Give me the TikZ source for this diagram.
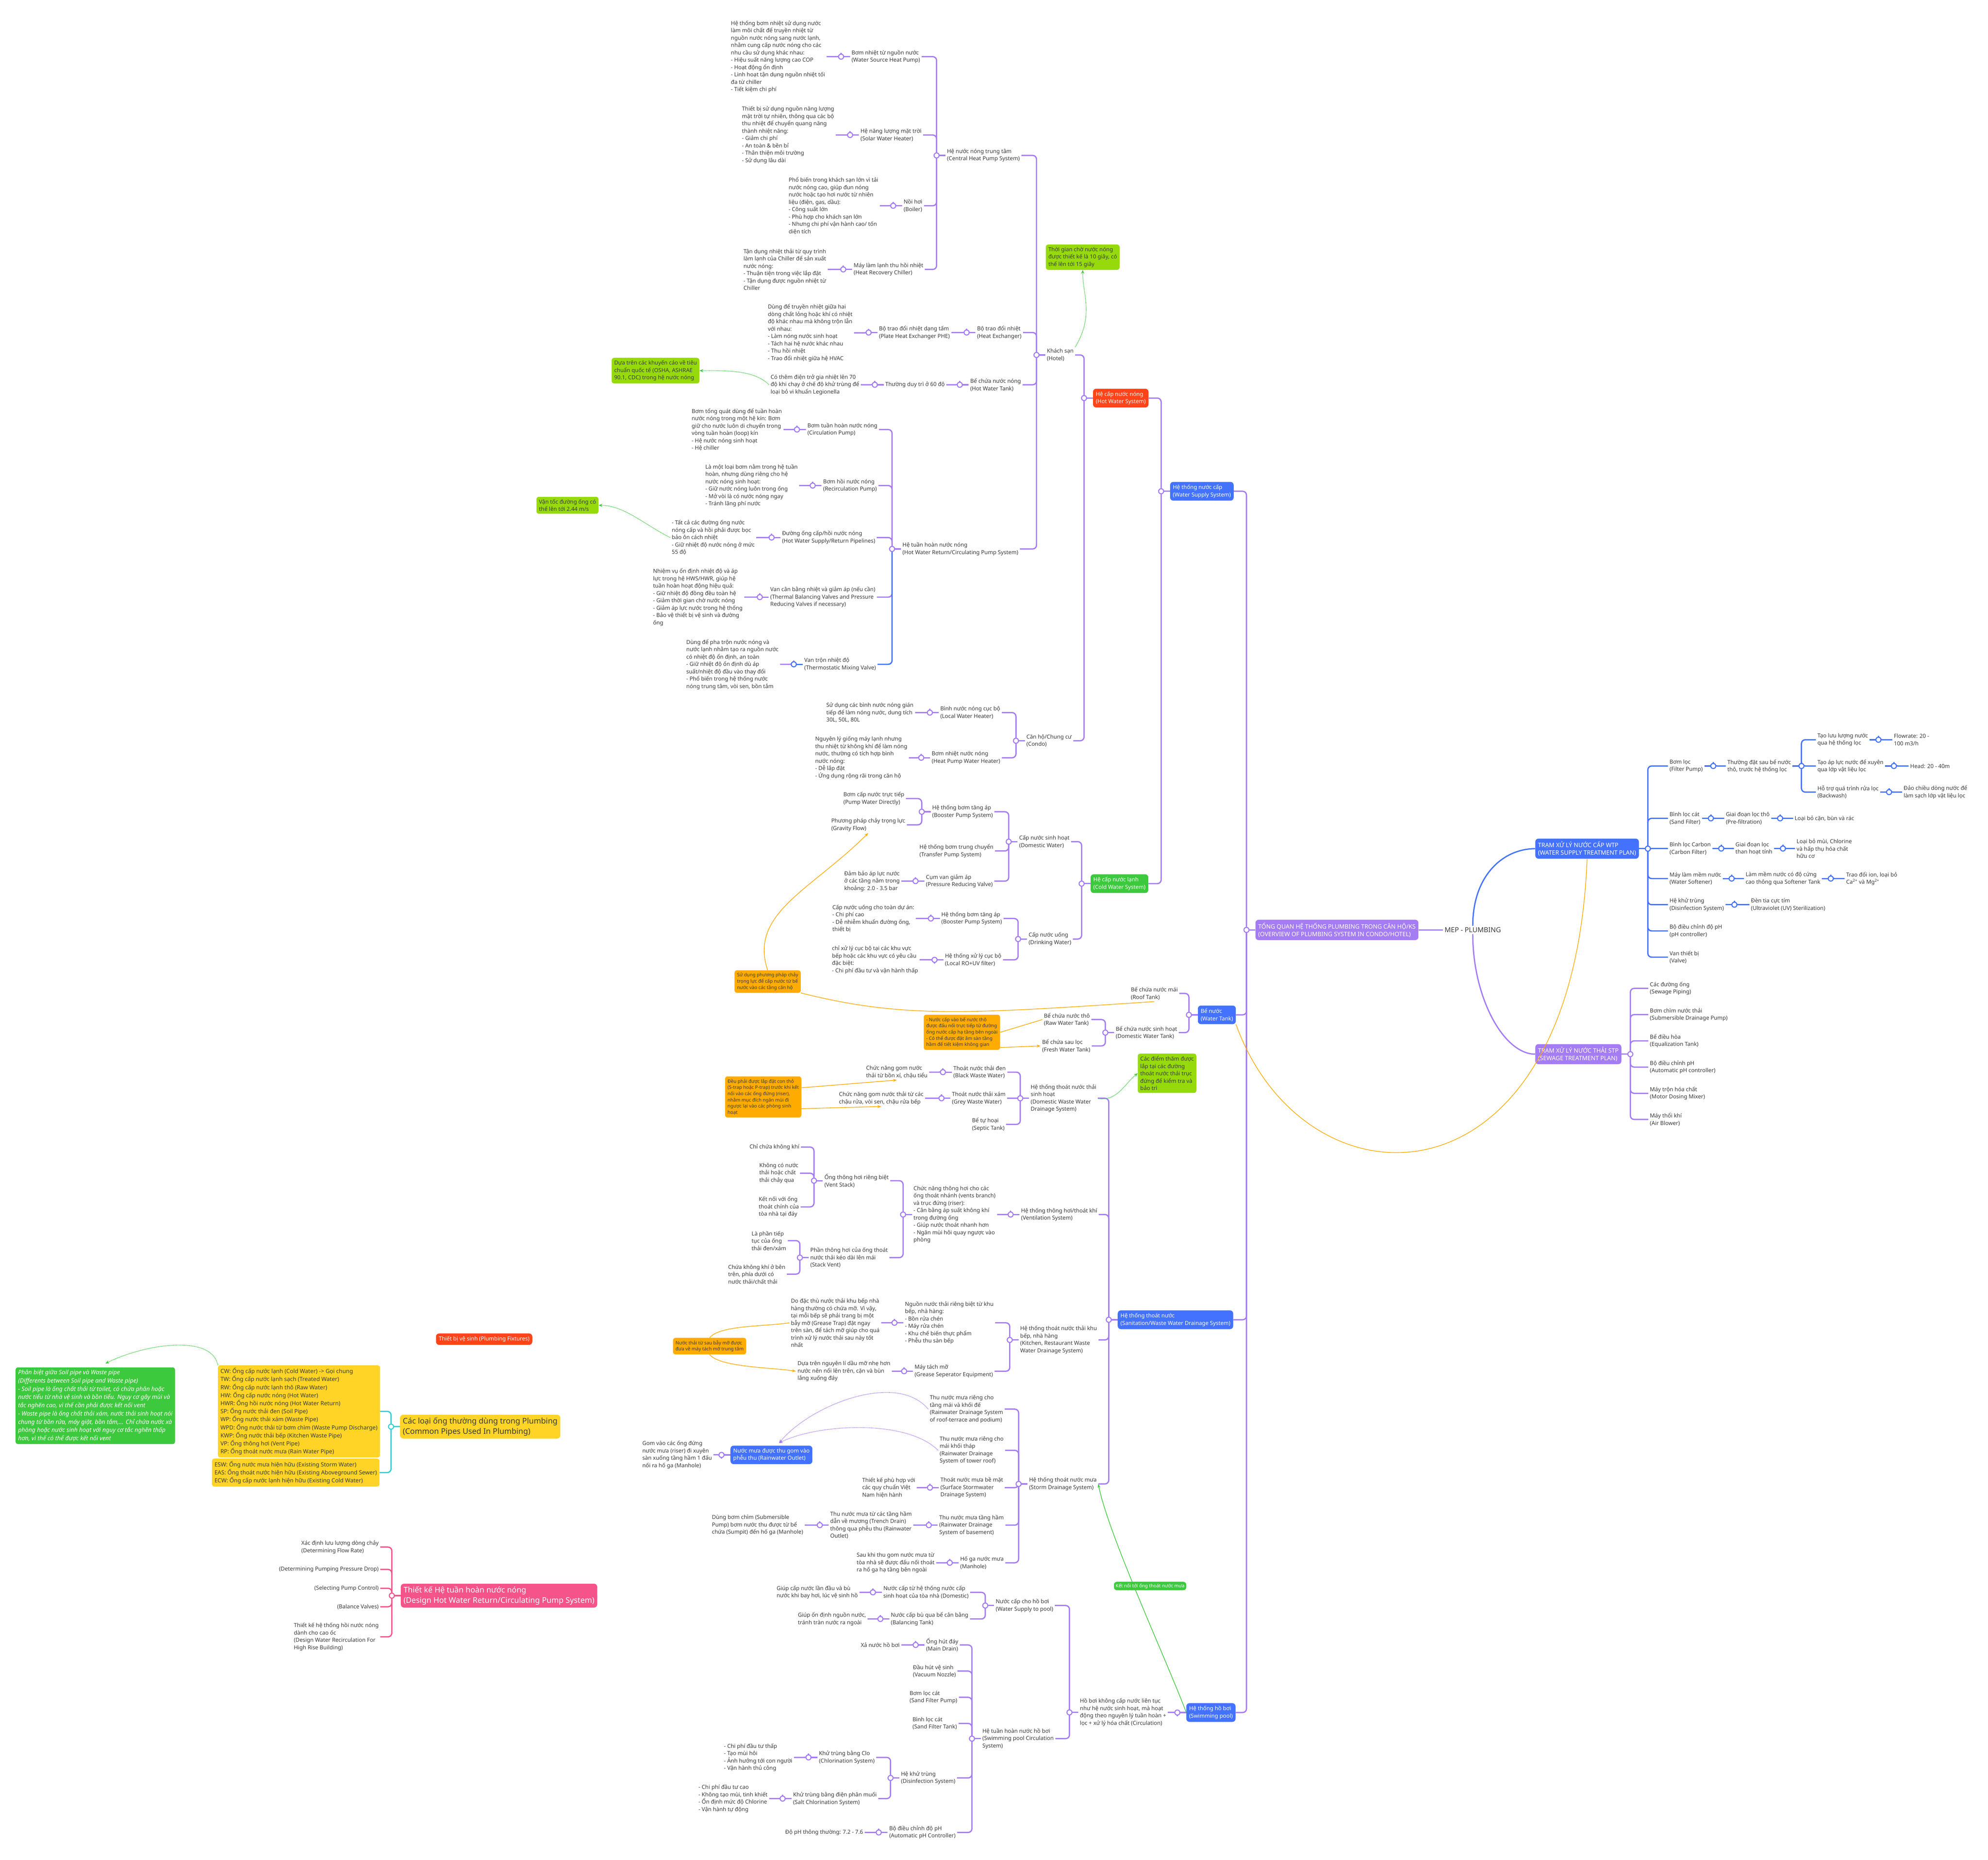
\documentclass[tikz,border=0pt]{standalone}
\usepackage{fontspec}
\setmainfont{Noto Sans}
\usetikzlibrary{positioning,calc,arrows.meta}
\definecolor{purp}{HTML}{A47CF3}
\definecolor{bl}{HTML}{4372FF}
\definecolor{redb}{HTML}{FF4419}
\definecolor{grn}{HTML}{3DC93D}
\definecolor{lime}{HTML}{96DA0B}
\definecolor{orng}{HTML}{FFAB00}
\definecolor{yel}{HTML}{FFD426}
\definecolor{pink}{HTML}{F5548A}
\definecolor{cyanl}{HTML}{35D0D6}
\definecolor{txt}{HTML}{3A3A3A}
\newcommand\lbfont{\fontsize{12.4}{16.5}\selectfont}
\newcommand\smfont{\fontsize{10.5}{14}\selectfont}
\newcommand\ttlfont{\bfseries\fontsize{17.5}{22.5}\selectfont}
\newcommand\capfont{\bfseries\fontsize{13.5}{17}\selectfont}
\newcommand\brL[3][purp]{\path[draw,br,#1] (#2.east) -| ($(#3.west)+(-7,0)$);}
\newcommand\brR[3][bl]{\path[draw,br,#1] (#2.west) -| ($(#3.east)+(7,0)$);}
\newcommand\knL[2][purp]{\path[draw,br,#1] (#2.west) -- ++(-7,0) node[knob,draw=#1]{};}
\newcommand\knR[2][bl]{\path[draw,br,#1] (#2.east) -- ++(7,0) node[knob,draw=#1]{};}
\tikzset{
    x=1mm,
    y=-1mm,
    lbl/.style = {
        anchor=west,
        align=left,
        inner sep=1.2mm,
        text=txt,
        font=\lbfont
    },
    lble/.style = {
        lbl,
        anchor=east
    },
    topic/.style = {
        anchor=west,
        align=left,
        rounded corners=2.5mm,
        inner sep=2.2mm,
        text=white,
        font=\lbfont
    },
    note/.style = {
        anchor=north west,
        align=left,
        rounded corners=2mm,
        inner sep=2mm,
        text=txt,
        font=\lbfont
    },
    knob/.style = {
        circle,
        fill=white,
        line width=0.8mm,
        minimum size=4mm,
        inner sep=0
    },
    br/.style = {
        line width=1mm,
        rounded corners=3mm
    },
    relg/.style = {
        draw=grn,
        densely dotted,
        line width=0.5mm,
        -{Stealth[length=3mm,width=2.5mm]}
    },
    relp/.style = {
        relg,
        draw=purp
    },
    relo/.style = {
        draw=orng,
        line width=0.5mm
    },
}

\begin{document}
\begin{tikzpicture}
\useasboundingbox (0,0) rectangle (1567.8,1466.9);

% hot water
\node[lbl] (wshpD) at (575.2,44.7) {Hệ thống bơm nhiệt sử dụng nước\\làm môi chất để truyền nhiệt từ\\nguồn nước nóng sang nước lạnh,\\nhằm cung cấp nước nóng cho các\\nhu cầu sử dụng khác nhau:\\- Hiệu suất năng lượng cao COP\\- Hoạt động ổn định\\- Linh hoạt tận dụng nguồn nhiệt tối\\đa từ chiller\\- Tiết kiệm chi phí};
\node[lbl] (wshp) at (670.3,44.7) {Bơm nhiệt từ nguồn nước\\(Water Source Heat Pump)};
\node[lbl] (solarD) at (583.9,106.5) {Thiết bị sử dụng nguồn năng lượng\\mặt trời tự nhiên, thông qua các bộ\\thu nhiệt để chuyển quang năng\\thành nhiệt năng:\\- Giảm chi phí\\- An toàn \& bền bỉ\\- Thân thiện môi trường\\- Sử dụng lâu dài};
\node[lbl] (solar) at (677.4,106.5) {Hệ năng lượng mặt trời\\(Solar Water Heater)};
\node[lbl] (central) at (745.6,122.6) {Hệ nước nóng trung tâm\\(Central Heat Pump System)};
\node[lbl] (boilerD) at (620.7,162.3) {Phổ biến trong khách sạn lớn vì tải\\nước nóng cao, giúp đun nóng\\nước hoặc tạo hơi nước từ nhiên\\liệu (điện, gas, dầu):\\- Công suất lớn\\- Phù hợp cho khách sạn lớn\\- Nhưng chi phí vận hành cao/ tốn\\diện tích};
\node[lbl] (boiler) at (711.4,162.3) {Nồi hơi\\(Boiler)};
\node[lbl] (hrcD) at (585.1,212.5) {Tận dụng nhiệt thải từ quy trình\\làm lạnh của Chiller để sản xuất\\nước nóng:\\- Thuận tiện trong việc lắp đặt\\- Tận dụng được nguồn nhiệt từ\\Chiller};
\node[lbl] (hrc) at (672,212.5) {Máy làm lạnh thu hồi nhiệt\\(Heat Recovery Chiller)};
\node[lbl] (pheD) at (604.3,262.5) {Dùng để truyền nhiệt giữa hai\\dòng chất lỏng hoặc khí có nhiệt\\độ khác nhau mà không trộn lẫn\\với nhau:\\- Làm nóng nước sinh hoạt\\- Tách hai hệ nước khác nhau\\- Thu hồi nhiệt\\- Trao đổi nhiệt giữa hệ HVAC};
\node[lbl] (phe) at (692,262.3) {Bộ trao đổi nhiệt dạng tấm\\(Plate Heat Exchanger PHE)};
\node[lbl] (he) at (769.3,262.3) {Bộ trao đổi nhiệt\\(Heat Exchanger)};
\node[lbl] (hotel) at (824.4,280) {Khách sạn\\(Hotel)};
\node[lbl] (legD) at (606.5,303.5) {Có thêm điện trở gia nhiệt lên 70\\độ khi chạy ở chế độ khử trùng để\\loại bỏ vi khuẩn Legionella};
\node[lbl] (keep60) at (696.9,303.5) {Thường duy trì ở 60 độ};
\node[lbl] (tank) at (763.9,303.5) {Bể chứa nước nóng\\(Hot Water Tank)};
\node[lbl] (circPD) at (544.2,338.8) {Bơm tổng quát dùng để tuần hoàn\\nước nóng trong một hệ kín: Bơm\\giữ cho nước luôn di chuyển trong\\vòng tuần hoàn (loop) kín\\- Hệ nước nóng sinh hoạt\\- Hệ chiller};
\node[lbl] (circP) at (635.5,338.8) {Bơm tuần hoàn nước nóng\\(Circulation Pump)};
\node[lbl] (recPD) at (555,383) {Là một loại bơm nằm trong hệ tuần\\hoàn, nhưng dùng riêng cho hệ\\nước nóng sinh hoạt:\\- Giữ nước nóng luôn trong ống\\- Mở vòi là có nước nóng ngay\\- Tránh lãng phí nước};
\node[lbl] (recP) at (647.9,383) {Bơm hồi nước nóng\\(Recirculation Pump)};
\node[lbl] (pipesD) at (528.5,424) {- Tất cả các đường ống nước\\nóng cấp và hồi phải được bọc\\bảo ôn cách nhiệt\\- Giữ nhiệt độ nước nóng ở mức\\55 độ};
\node[lbl] (pipes) at (615.5,424) {Đường ống cấp/hồi nước nóng\\(Hot Water Supply/Return Pipelines)};
\node[lbl] (valvesD) at (513.8,471) {Nhiệm vụ ổn định nhiệt độ và áp\\lực trong hệ HWS/HWR, giúp hệ\\tuần hoàn hoạt động hiệu quả:\\- Giữ nhiệt độ đồng đều toàn hệ\\- Giảm thời gian chờ nước nóng\\- Giảm áp lực nước trong hệ thống\\- Bảo vệ thiết bị vệ sinh và đường\\ống};
\node[lbl] (valves) at (606.2,471) {Van cân bằng nhiệt và giảm áp (nếu cần)\\(Thermal Balancing Valves and Pressure\\Reducing Valves if necessary)};
\node[lbl] (tmvD) at (540,524) {Dùng để pha trộn nước nóng và\\nước lạnh nhằm tạo ra nguồn nước\\có nhiệt độ ổn định, an toàn\\- Giữ nhiệt độ ổn định dù áp\\suất/nhiệt độ đầu vào thay đổi\\- Phổ biến trong hệ thống nước\\nóng trung tâm, vòi sen, bồn tắm};
\node[lbl] (tmv) at (633,524) {Van trộn nhiệt độ\\(Thermostatic Mixing Valve)};
\node[lbl] (hwrc) at (710.5,433) {Hệ tuần hoàn nước nóng\\(Hot Water Return/Circulating Pump System)};
\node[topic,fill=redb] (hotws) at (861.9,314) {Hệ cấp nước nóng\\(Hot Water System)};
\node[lbl] (lwhD) at (650.4,562.1) {Sử dụng các bình nước nóng gián\\tiếp để làm nóng nước, dung tích\\30L, 50L, 80L};
\node[lbl] (lwh) at (740.3,562.1) {Bình nước nóng cục bộ\\(Local Water Heater)};
\node[lbl] (hpwhD) at (641.6,597.7) {Nguyên lý giống máy lạnh nhưng\\thu nhiệt từ không khí để làm nóng\\nước, thường có tích hợp bình\\nước nóng:\\- Dễ lắp đặt\\- Ứng dụng rộng rãi trong căn hộ};
\node[lbl] (hpwh) at (733.5,597.7) {Bơm nhiệt nước nóng\\(Heat Pump Water Heater)};
\node[lbl] (condo) at (808.2,584.3) {Căn hộ/Chung cư\\(Condo)};

% cold water
\node[lbl] (pwd) at (663.9,629.9) {Bơm cấp nước trực tiếp\\(Pump Water Directly)};
\node[lbl] (grav) at (654.3,650.6) {Phương pháp chảy trọng lực\\(Gravity Flow)};
\node[lbl] (boost1) at (733.9,640.3) {Hệ thống bơm tăng áp\\(Booster Pump System)};
\node[lbl] (transfer) at (723.9,671.2) {Hệ thống bơm trung chuyển\\(Transfer Pump System)};
\node[lbl] (prvD) at (664.5,695) {Đảm bảo áp lực nước\\ở các tầng nằm trong\\khoảng: 2.0 - 3.5 bar};
\node[lbl] (prv) at (729,695) {Cụm van giảm áp\\(Pressure Reducing Valve)};
\node[lbl] (domw) at (802.5,663.9) {Cấp nước sinh hoạt\\(Domestic Water)};
\node[topic,fill=grn] (cws) at (860,697) {Hệ cấp nước lạnh\\(Cold Water System)};
\node[lbl] (boost2D) at (655.2,724.5) {Cấp nước uống cho toàn dự án:\\- Chi phí cao\\- Dễ nhiễm khuẩn đường ống,\\thiết bị};
\node[lbl] (boost2) at (741.1,724.5) {Hệ thống bơm tăng áp\\(Booster Pump System)};
\node[lbl] (roD) at (654.9,757) {chỉ xử lý cục bộ tại các khu vực\\bếp hoặc các khu vực có yêu cầu\\đặc biệt:\\- Chi phí đầu tư và vận hành thấp};
\node[lbl] (ro) at (744,757.1) {Hệ thống xử lý cục bộ\\(Local RO+UV filter)};
\node[lbl] (drink) at (809.9,740.7) {Cấp nước uống\\(Drinking Water)};
\node[topic,fill=bl] (wss) at (922.7,387.5) {Hệ thống nước cấp\\(Water Supply System)};

% tanks
\node[lbl] (roof) at (890.6,783.6) {Bể chứa nước mái\\(Roof Tank)};
\node[lbl] (rawT) at (822,804.2) {Bể chứa nước thô\\(Raw Water Tank)};
\node[lbl] (freshT) at (820.6,825) {Bể chứa sau lọc\\(Fresh Water Tank)};
\node[lbl] (domT) at (878.7,814.5) {Bể chứa nước sinh hoạt\\(Domestic Water Tank)};
\node[topic,fill=bl] (wtank) at (944.6,800.5) {Bể nước\\(Water Tank)};

% drainage
\node[lbl] (bwwD) at (681.8,845.7) {Chức năng gom nước\\thải từ bồn xí, chậu tiểu};
\node[lbl] (bww) at (750.6,845.7) {Thoát nước thải đen\\(Black Waste Water)};
\node[lbl] (gwwD) at (660.4,866.3) {Chức năng gom nước thải từ các\\chậu rửa, vòi sen, chậu rửa bếp};
\node[lbl] (gww) at (749.5,866.3) {Thoát nước thải xám\\(Grey Waste Water)};
\node[lbl] (septic) at (765.3,886.9) {Bể tự hoại\\(Septic Tank)};
\node[lbl] (dwds) at (811.6,866.3) {Hệ thống thoát nước thải\\sinh hoạt\\(Domestic Waste Water\\Drainage System)};
\node[lbl] (air) at (589.8,904.8) {Chỉ chứa không khí};
\node[lbl] (nowater) at (597.6,925.4) {Không có nước\\thải hoặc chất\\thải chảy qua};
\node[lbl] (connect) at (597.1,952) {Kết nối với ống\\thoát chính của\\tòa nhà tại đáy};
\node[lbl] (vstack) at (648.9,931.3) {Ống thông hơi riêng biệt\\(Vent Stack)};
\node[lbl] (cont) at (591.5,978.6) {Là phần tiếp\\tục của ống\\thải đen/xám};
\node[lbl] (abv) at (573,1005) {Chứa không khí ở bên\\trên, phía dưới có\\nước thải/chất thải};
\node[lbl] (stackv) at (637.8,992) {Phần thông hơi của ống thoát\\nước thải kéo dài lên mái\\(Stack Vent)};
\node[lbl] (ventD) at (719.2,958) {Chức năng thông hơi cho các\\ống thoát nhánh (vents branch)\\và trục đứng (riser):\\- Cân bằng áp suất không khí\\trong đường ống\\- Giúp nước thoát nhanh hơn\\- Ngăn mùi hôi quay ngược vào\\phòng};
\node[lbl] (vent) at (804,958) {Hệ thống thông hơi/thoát khí\\(Ventilation System)};
\node[lbl] (greaseD) at (622.5,1043.4) {Do đặc thù nước thải khu bếp nhà\\hàng thường có chứa mỡ. Vì vậy,\\tại mỗi bếp sẽ phải trang bị một\\bẫy mỡ (Grease Trap) đặt ngay\\trên sàn, để tách mỡ giúp cho quá\\trình xử lý nước thải sau này tốt\\nhất};
\node[lbl] (kitD) at (712.4,1043.4) {Nguồn nước thải riêng biệt từ khu\\bếp, nhà hàng:\\- Bồn rửa chén\\- Máy rửa chén\\- Khu chế biến thực phẩm\\- Phễu thu sàn bếp};
\node[lbl] (sepD) at (627.7,1081.6) {Dựa trên nguyên lí dầu mỡ nhẹ hơn\\nước nên nổi lên trên, cặn và bùn\\lắng xuống đáy};
\node[lbl] (sep) at (720,1081.6) {Máy tách mỡ\\(Grease Seperator Equipment)};
\node[lbl] (kit) at (803.3,1056.9) {Hệ thống thoát nước thải khu\\bếp, nhà hàng\\(Kitchen, Restaurant Waste\\Water Drainage System)};
\node[lbl] (roofRain) at (732,1111.5) {Thu nước mưa riêng cho\\tầng mái và khối đế\\(Rainwater Drainage System\\of roof-terrace and podium)};
\node[lbl] (towerRain) at (739.8,1144) {Thu nước mưa riêng cho\\mái khối tháp\\(Rainwater Drainage\\System of tower roof)};
\node[lbl] (surfD) at (678.7,1173.4) {Thiết kế phù hợp với\\các quy chuẩn Việt\\Nam hiện hành};
\node[lbl] (surf) at (740.4,1173.4) {Thoát nước mưa bề mặt\\(Surface Stormwater\\Drainage System)};
\node[lbl] (storm) at (810.3,1170.5) {Hệ thống thoát nước mưa\\(Storm Drainage System)};
\node[lbl] (basD2) at (560.2,1203) {Dùng bơm chìm (Submersible\\Pump) bơm nước thu được từ bể\\chứa (Sumpit) đến hố ga (Manhole)};
\node[lbl] (basD1) at (653.5,1203) {Thu nước mưa từ các tầng hầm\\dẫn về mương (Trench Drain)\\thông qua phễu thu (Rainwater\\Outlet)};
\node[lbl] (bas) at (739.5,1203) {Thu nước mưa tầng hầm\\(Rainwater Drainage\\System of basement)};
\node[lbl] (mhD) at (674.3,1232.7) {Sau khi thu gom nước mưa từ\\tòa nhà sẽ được đấu nối thoát\\ra hố ga hạ tầng bên ngoài};
\node[lbl] (mh) at (756,1232.7) {Hố ga nước mưa\\(Manhole)};
\node[topic,fill=bl] (sww) at (881.4,1041) {Hệ thống thoát nước\\(Sanitation/Waste Water Drainage System)};
\node[topic,fill=bl] (outlet) at (576,1147.6) {Nước mưa được thu gom vào\\phễu thu (Rainwater Outlet)};
\node[lbl] (outletD) at (505.3,1147.5) {Gom vào các ống đứng\\nước mưa (riser) đi xuyên\\sàn xuống tầng hầm 1 đấu\\nối ra hố ga (Manhole)};

% pool
\node[lbl] (dom2D) at (611.2,1256) {Giúp cấp nước lần đầu và bù\\nước khi bay hơi, lúc vệ sinh hồ};
\node[lbl] (dom2) at (695.4,1256) {Nước cấp từ hệ thống nước cấp\\sinh hoạt của tòa nhà (Domestic)};
\node[lbl] (balD) at (628,1277) {Giúp ổn định nguồn nước,\\tránh tràn nước ra ngoài};
\node[lbl] (bal) at (701.3,1277) {Nước cấp bù qua bể cân bằng\\(Balancing Tank)};
\node[lbl] (wsp) at (784,1266.4) {Nước cấp cho hồ bơi\\(Water Supply to pool)};
\node[lbl] (drainD) at (677.6,1297.5) {Xả nước hồ bơi};
\node[lbl] (drain) at (729.1,1297.5) {Ống hút đáy\\(Main Drain)};
\node[lbl] (vac) at (718.7,1318.1) {Đầu hút vệ sinh\\(Vacuum Nozzle)};
\node[lbl] (sfp) at (716.1,1338.8) {Bơm lọc cát\\(Sand Filter Pump)};
\node[lbl] (sft) at (718.4,1359.4) {Bình lọc cát\\(Sand Filter Tank)};
\node[lbl] (cloD) at (569.7,1386.2) {- Chi phí đầu tư thấp\\- Tạo mùi hôi\\- Ảnh hưởng tới con người\\- Vận hành thủ công};
\node[lbl] (clo) at (644.6,1386.2) {Khử trùng bằng Clo\\(Chlorination System)};
\node[lbl] (saltD) at (549.6,1418.7) {- Chi phí đầu tư cao\\- Không tạo mùi, tinh khiết\\- Ổn định mức độ Chlorine\\- Vận hành tự động};
\node[lbl] (salt) at (624.2,1418.7) {Khử trùng bằng điện phân muối\\(Salt Chlorination System)};
\node[lbl] (dis) at (709.3,1402.4) {Hệ khử trùng\\(Disinfection System)};
\node[lbl] (phD) at (618,1445.4) {Độ pH thông thường: 7.2 - 7.6};
\node[lbl] (ph) at (700,1445.4) {Bộ điều chỉnh độ pH\\(Automatic pH Controller)};
\node[lbl] (pcirc) at (773.5,1371.4) {Hệ tuần hoàn nước hồ bơi\\(Swimming pool Circulation\\System)};
\node[lbl] (poolD) at (850.4,1350.7) {Hồ bơi không cấp nước liên tục\\như hệ nước sinh hoạt, mà hoạt\\động theo nguyên lý tuần hoàn +\\lọc + xử lý hóa chất (Circulation)};
\node[topic,fill=bl] (pool) at (935.5,1350.8) {Hệ thống hồ bơi\\(Swimming pool)};

% center
\node[topic,fill=purp,font=\capfont] (overview) at (990,733.5) {TỔNG QUAN HỆ THỐNG PLUMBING TRONG CĂN HỘ/KS\\(OVERVIEW OF PLUMBING SYSTEM IN CONDO/HOTEL)};
\node[lbl,font=\bfseries\fontsize{15.5}{18}\selectfont] (root) at (1138,733.5) {MEP - PLUMBING};
\node[topic,fill=bl,font=\capfont] (wtp) at (1210.7,669.4) {TRẠM XỬ LÝ NƯỚC CẤP WTP\\(WATER SUPPLY TREATMENT PLAN)};
\node[topic,fill=purp,font=\capfont] (stp) at (1210.7,831.5) {TRẠM XỬ LÝ NƯỚC THẢI STP\\(SEWAGE TREATMENT PLAN)};

% treatment plants
\node[lbl] (fp) at (1315.4,604.2) {Bơm lọc\\(Filter Pump)};
\node[lbl] (fpD) at (1361,604.2) {Thường đặt sau bể nước\\thô, trước hệ thống lọc};
\node[lbl] (fr1) at (1432,583.5) {Tạo lưu lượng nước\\qua hệ thống lọc};
\node[lbl] (fr1a) at (1492.3,583.5) {Flowrate: 20 -\\100 m3/h};
\node[lbl] (fr2) at (1432,604.2) {Tạo áp lực nước để xuyên\\qua lớp vật liệu lọc};
\node[lbl] (fr2a) at (1505.2,604.2) {Head: 20 - 40m};
\node[lbl] (fr3) at (1432,624.8) {Hỗ trợ quá trình rửa lọc\\(Backwash)};
\node[lbl] (fr3a) at (1500,624.8) {Đảo chiều dòng nước để\\làm sạch lớp vật liệu lọc};
\node[lbl] (sand) at (1315.4,645.5) {Bình lọc cát\\(Sand Filter)};
\node[lbl] (sandA) at (1359.8,645.5) {Giai đoạn lọc thô\\(Pre-filtration)};
\node[lbl] (sandB) at (1414.1,645.5) {Loại bỏ cặn, bùn và rác};
\node[lbl] (carb) at (1315.4,669.3) {Bình lọc Carbon\\(Carbon Filter)};
\node[lbl] (carbA) at (1367.4,669.3) {Giai đoạn lọc\\than hoạt tính};
\node[lbl] (carbB) at (1415.6,669.3) {Loại bỏ mùi, Chlorine\\và hấp thụ hóa chất\\hữu cơ};
\node[lbl] (soft) at (1315.4,693) {Máy làm mềm nước\\(Water Softener)};
\node[lbl] (softA) at (1375.4,693) {Làm mềm nước có độ cứng\\cao thông qua Softener Tank};
\node[lbl] (softB) at (1454.7,693) {Trao đổi ion, loại bỏ\\Ca\textsuperscript{2+} và Mg\textsuperscript{2+}};
\node[lbl] (dis2) at (1315.4,713.6) {Hệ khử trùng\\(Disinfection System)};
\node[lbl] (dis2A) at (1379.6,713.6) {Đèn tia cực tím\\(Ultraviolet (UV) Sterilization)};
\node[lbl] (ph2) at (1315.4,734.3) {Bộ điều chỉnh độ pH\\(pH controller)};
\node[lbl] (valve) at (1315.4,755) {Van thiết bị\\(Valve)};
\node[lbl] (s1) at (1299.9,779.6) {Các đường ống\\(Sewage Piping)};
\node[lbl] (s2) at (1299.9,800.3) {Bơm chìm nước thải\\(Submersible Drainage Pump)};
\node[lbl] (s3) at (1299.9,821) {Bể điều hòa\\(Equalization Tank)};
\node[lbl] (s4) at (1299.9,841.7) {Bộ điều chỉnh pH\\(Automatic pH controller)};
\node[lbl] (s5) at (1299.9,862.4) {Máy trộn hóa chất\\(Motor Dosing Mixer)};
\node[lbl] (s6) at (1299.9,883) {Máy thổi khí\\(Air Blower)};

% floating topics
\node[topic,fill=redb,anchor=center] (fixtures) at (381.8,1056.3) {Thiết bị vệ sinh (Plumbing Fixtures)};
\node[note,fill=grn,text=white,font=\itshape\fontsize{13.5}{18.5}\selectfont] (soilNote) at (12.2,1078.5) {Phân biệt giữa Soil pipe và Waste pipe\\(Differents between Soil pipe and Waste pipe)\\- Soil pipe là ống chất thải từ toilet, có chứa phân hoặc\\nước tiểu từ nhà vệ sinh và bồn tiểu. Nguy cơ gây mùi và\\tắc nghẽn cao, vì thế cần phải được kết nối vent\\- Waste pipe là ống chất thải xám, nước thải sinh hoạt nói\\chung từ bồn rửa, máy giặt, bồn tắm,... Chỉ chứa nước xà\\phòng hoặc nước sinh hoạt với nguy cơ tắc nghẽn thấp\\hơn, vì thế có thể được kết nối vent};
\node[note,fill=yel,font=\fontsize{12.8}{18}\selectfont] (pipes1) at (171.8,1076.8) {CW: Ống cấp nước lạnh (Cold Water) -> Gọi chung\\TW: Ống cấp nước lạnh sạch (Treated Water)\\RW: Ống cấp nước lạnh thô (Raw Water)\\HW: Ống cấp nước nóng (Hot Water)\\HWR: Ống hồi nước nóng (Hot Water Return)\\SP: Ống nước thải đen (Soil Pipe)\\WP: Ống nước thải xám (Waste Pipe)\\WPD: Ống nước thải từ bơm chìm (Waste Pump Discharge)\\KWP: Ống nước thải bếp (Kitchen Waste Pipe)\\VP: Ống thông hơi (Vent Pipe)\\RP: Ống thoát nước mưa (Rain Water Pipe)};
\node[note,fill=yel,font=\fontsize{12.8}{18}\selectfont] (pipes2) at (167.1,1150.4) {ESW: Ống nước mưa hiện hữu (Existing Storm Water)\\EAS: Ống thoát nước hiện hữu (Existing Aboveground Sewer)\\ECW: Ống cấp nước lạnh hiện hữu (Existing Cold Water)};
\node[topic,fill=yel,text=txt,font=\ttlfont] (pipesT) at (315.4,1125.3) {Các loại ống thường dùng trong Plumbing\\(Common Pipes Used In Plumbing)};
\node[topic,fill=pink,font=\ttlfont] (design) at (316,1258.6) {Thiết kế Hệ tuần hoàn nước nóng\\(Design Hot Water Return/Circulating Pump System)};
\node[lble] (d1) at (299.9,1220.3) {Xác định lưu lượng dòng chảy\\(Determining Flow Rate)};
\node[lble] (d2) at (299.9,1237.9) {(Determining Pumping Pressure Drop)};
\node[lble] (d3) at (299.9,1252.8) {(Selecting Pump Control)};
\node[lble] (d4) at (299.9,1267.4) {(Balance Valves)};
\node[lble] (d5) at (299.9,1291.1) {Thiết kế hệ thống hồi nước nóng\\dành cho cao ốc\\(Design Water Recirculation For\\High Rise Building)};

% notes
\node[note,fill=lime] (note1) at (824.7,192.8) {Thời gian chờ nước nóng\\được thiết kế là 10 giây, có\\thể lên tới 15 giây};
\node[note,fill=lime] (note2) at (482.3,282.2) {Dựa trên các khuyến cáo về tiêu\\chuẩn quốc tế (OSHA, ASHRAE\\90.1, CDC) trong hệ nước nóng};
\node[note,fill=lime] (note3) at (423,391.8) {Vận tốc đường ống có\\thể lên tới 2.44 m/s};
\node[note,fill=orng,font=\smfont] (note4) at (579.2,765.3) {Sử dụng phương pháp chảy\\trọng lực để cấp nước từ bể\\nước vào các tầng căn hộ};
\node[note,fill=orng,font=\smfont] (note5) at (728.4,800.3) {- Nước cấp vào bể nước thô\\được đấu nối trực tiếp từ đường\\ống nước cấp hạ tầng bên ngoài\\- Có thể được đặt âm sàn tầng\\hầm để tiết kiệm không gian};
\node[note,fill=lime] (note6) at (897.2,831) {Các điểm thăm được\\lắp tại các đường\\thoát nước thải trục\\đứng để kiểm tra và\\bảo trì};
\node[note,fill=orng,font=\smfont] (note7) at (571.7,849) {Đều phải được lắp đặt con thỏ\\(S-trap hoặc P-trap) trước khi kết\\nối vào các ống đứng (riser),\\nhằm mục đích ngăn mùi đi\\ngược lại vào các phòng sinh\\hoạt};
\node[note,fill=orng,font=\smfont] (note8) at (530.7,1055.2) {Nước thải từ sau bẫy mỡ được\\đưa về máy tách mỡ trung tâm};

% branches
\foreach \c/\p in {wshpD/wshp,solarD/solar,boilerD/boiler,hrcD/hrc,wshp/central,solar/central,boiler/central,hrc/central,
    pheD/phe,phe/he,legD/keep60,keep60/tank,central/hotel,he/hotel,tank/hotel,hwrc/hotel,
    circPD/circP,recPD/recP,pipesD/pipes,valvesD/valves,tmvD/tmv,circP/hwrc,recP/hwrc,pipes/hwrc,valves/hwrc,
    lwhD/lwh,hpwhD/hpwh,lwh/condo,hpwh/condo,hotel/hotws,condo/hotws,
    pwd/boost1,grav/boost1,prvD/prv,boost1/domw,transfer/domw,prv/domw,boost2D/boost2,roD/ro,boost2/drink,ro/drink,
    domw/cws,drink/cws,hotws/wss,cws/wss,rawT/domT,freshT/domT,roof/wtank,domT/wtank,
    bwwD/bww,gwwD/gww,bww/dwds,gww/dwds,septic/dwds,air/vstack,nowater/vstack,connect/vstack,cont/stackv,abv/stackv,
    vstack/ventD,stackv/ventD,ventD/vent,greaseD/kitD,sepD/sep,kitD/kit,sep/kit,surfD/surf,basD2/basD1,basD1/bas,mhD/mh,
    roofRain/storm,towerRain/storm,surf/storm,bas/storm,mh/storm,dwds/sww,vent/sww,kit/sww,storm/sww,outletD/outlet,
    dom2D/dom2,balD/bal,dom2/wsp,bal/wsp,drainD/drain,cloD/clo,saltD/salt,clo/dis,salt/dis,phD/ph,
    drain/pcirc,vac/pcirc,sfp/pcirc,sft/pcirc,dis/pcirc,ph/pcirc,wsp/poolD,pcirc/poolD,poolD/pool,
    wss/overview,wtank/overview,sww/overview,pool/overview}
    {\brL{\c}{\p}}
\brL[bl]{tmv}{hwrc}
\brL[cyanl]{pipes1}{pipesT}
\brL[cyanl]{pipes2}{pipesT}
\foreach \c in {d1,d2,d3,d4,d5} {\brL[pink]{\c}{design}}
\foreach \c/\p in {fp/wtp,sand/wtp,carb/wtp,soft/wtp,dis2/wtp,ph2/wtp,valve/wtp,fpD/fp,fr1/fpD,fr2/fpD,fr3/fpD,
    fr1a/fr1,fr2a/fr2,fr3a/fr3,sandA/sand,sandB/sandA,carbA/carb,carbB/carbA,softA/soft,softB/softA,dis2A/dis2}
    {\brR{\c}{\p}}
\foreach \c in {s1,s2,s3,s4,s5,s6} {\brR[purp]{\c}{stp}}

\path[draw,br,purp] (overview.east) -- (root.west);
\path[draw,br,bl] (root.north) .. controls +(0,-40) and +(-25,0) .. (wtp.west);
\path[draw,br,purp] (root.south) .. controls +(0,50) and +(-25,0) .. (stp.west);

\foreach \p in {wshp,solar,boiler,hrc,central,phe,he,keep60,tank,hotel,circP,recP,pipes,valves,hwrc,hotws,lwh,hpwh,condo,
    boost1,prv,domw,boost2,ro,drink,cws,wss,domT,wtank,bww,gww,dwds,vstack,stackv,ventD,vent,kitD,kit,sep,
    storm,surf,bas,basD1,mh,sww,outlet,dom2,bal,wsp,drain,clo,salt,dis,ph,pcirc,poolD,pool,overview}
    {\knL{\p}}
\knL[bl]{tmv}
\knL[cyanl]{pipesT}
\knL[pink]{design}
\foreach \p in {wtp,fp,fpD,fr1,fr2,fr3,sand,sandA,carb,carbA,soft,softA,dis2} {\knR{\p}}
\knR[purp]{stp}

% relations
\path[relg] (hotel.north east) .. controls +(15,-25) and +(0,20) .. (note1.south);
\path[relg] (legD.west) .. controls +(-12,-12) and +(20,0) .. (note2.east);
\path[relg] (pipesD.west) .. controls +(-20,-10) and +(20,0) .. (note3.east);
\path[relg] (dwds.east) .. controls +(15,3) and +(-10,8) .. (note6.west);
\path[relg] (pipes1.north west) .. controls +(-5,-25) and +(30,-15) .. ($(soilNote.north)+(8,-3)$);
\path[relp] (roofRain.west) .. controls +(-25,-30) and +(25,-30) .. ($(outlet.north)+(6,-2)$);
\path[relp] (towerRain.west) .. controls +(-25,-25) and +(30,-15) .. ($(outlet.north)+(6,-2)$);
\path[relo,-{Stealth[length=3mm]}] (note4.north) .. controls +(-15,-45) and +(-45,45) .. (grav.south);
\path[relo] (note4.south east) .. controls +(80,20) and +(-150,10) .. (roof.south);
\path[relo] (wtank.south east) .. controls +(55,152) and +(-11,282) .. (wtp.south);
\path[relo] (note5.east) -- (rawT.west);
\path[relo,-{Stealth[length=3mm]}] ($(note5.east)+(0,12)$) -- (freshT.west);
\path[relo,-{Stealth[length=3mm]}] ($(note7.north east)+(0,9)$) -- (bwwD.south);
\path[relo,-{Stealth[length=3mm]}] ($(note7.south east)+(0,-7)$) -- (gwwD.south);
\path[relo] (note8.north) .. controls +(8,-10) and +(-20,3) .. (greaseD.west);
\path[relo,-{Stealth[length=3mm]}] (note8.south) .. controls +(8,10) and +(-20,-3) .. (sepD.west);
\path[draw=grn,line width=0.5mm,-{Stealth[length=3mm]}] (pool.west) .. controls +(-15,-40) and +(8,40) .. (storm.east);
\node[topic,fill=grn,anchor=center,rounded corners=2.5mm,inner sep=1.4mm,font=\fontsize{10.5}{12}\selectfont] (lnk) at (907,1251) {Kết nối tới ống thoát nước mưa};
\end{tikzpicture}
\end{document}
